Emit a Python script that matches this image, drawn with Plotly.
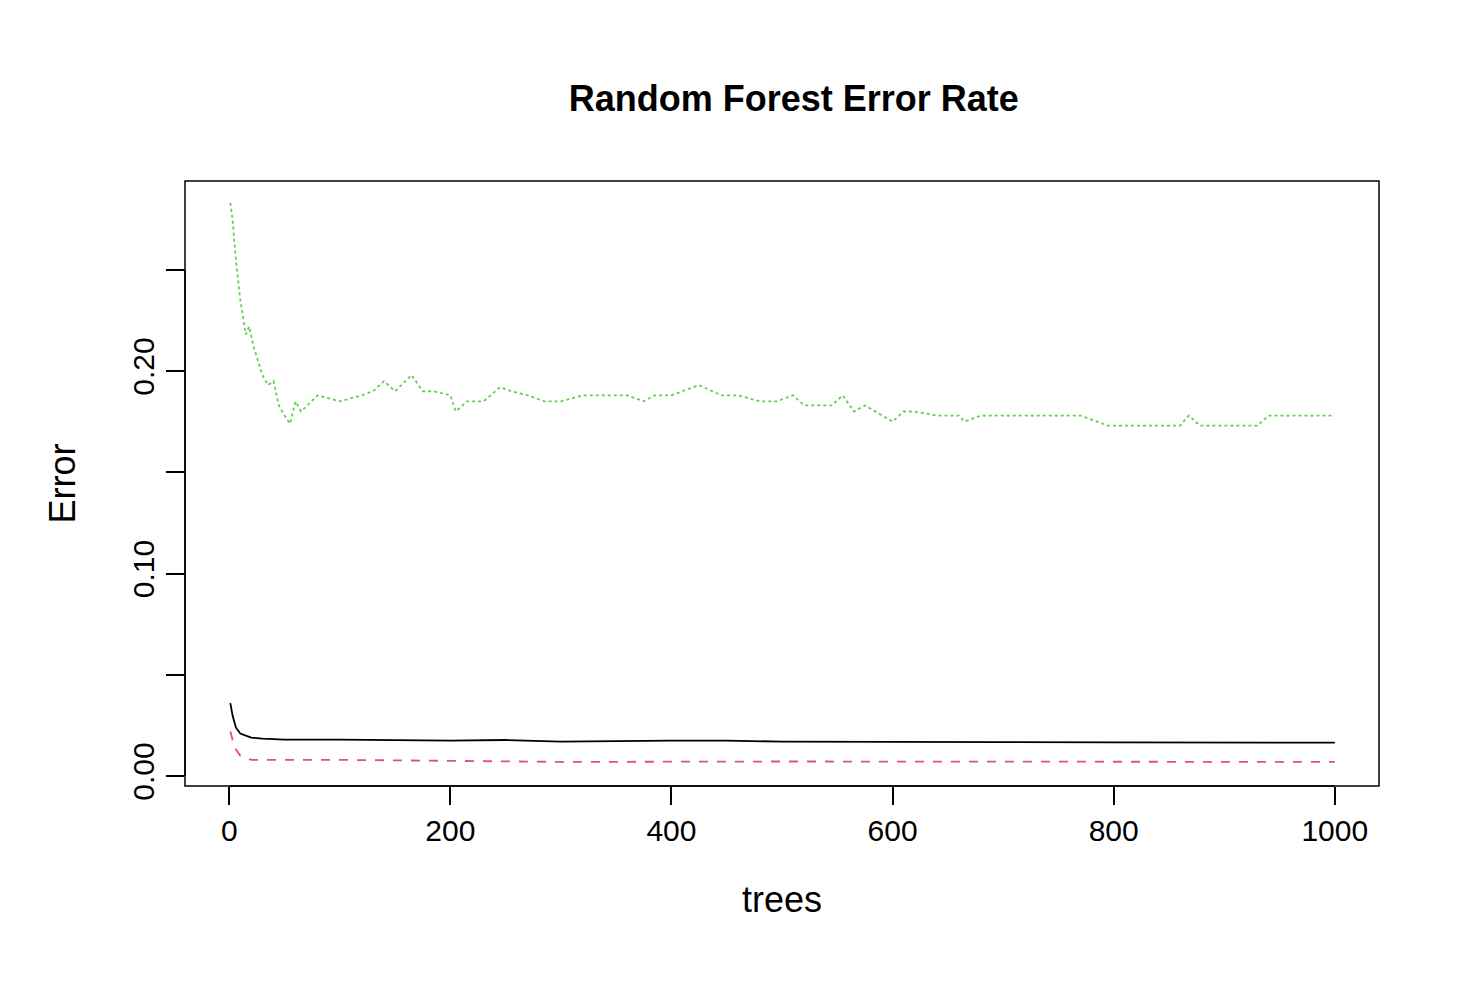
import plotly.graph_objects as go

# OOB (black)
oob_trees = [1, 3, 6, 10, 15, 20, 30, 50, 100, 200, 250, 300, 400, 450, 500, 600, 700, 800, 900, 1000]
oob_err = [0.036, 0.030, 0.024, 0.021, 0.020, 0.019, 0.0185, 0.018, 0.018, 0.0175, 0.0178, 0.017, 0.0175, 0.0175, 0.017, 0.017, 0.0168, 0.0166, 0.0165, 0.0165]
# class 1 (red dashed)
c1_trees = [1, 5, 10, 20, 30, 100, 200, 280, 300, 500, 600, 700, 800, 1000]
c1_err = [0.022, 0.014, 0.010, 0.008, 0.008, 0.008, 0.0075, 0.0072, 0.007, 0.0072, 0.0072, 0.0072, 0.007, 0.007]
# class 2 (green dotted)
c2_trees = [1, 3, 6, 10, 13, 15, 18, 22, 26, 30, 35, 40, 45, 50, 55, 60, 65, 80, 100, 120, 130, 140, 150, 165, 175, 185, 200, 205, 215, 230, 245, 255, 270, 285, 300, 320, 360, 375, 385, 400, 425, 445, 460, 480, 495, 510, 520, 545, 555, 565, 575, 590, 600, 610, 620, 640, 660, 665, 680, 770, 785, 795, 860, 868, 878, 930, 940, 1000]
c2_err = [0.283, 0.275, 0.255, 0.235, 0.225, 0.218, 0.222, 0.212, 0.205, 0.198, 0.193, 0.195, 0.183, 0.178, 0.174, 0.185, 0.18, 0.188, 0.185, 0.188, 0.19, 0.195, 0.19, 0.198, 0.19, 0.19, 0.188, 0.18, 0.185, 0.185, 0.192, 0.19, 0.188, 0.185, 0.185, 0.188, 0.188, 0.185, 0.188, 0.188, 0.193, 0.188, 0.188, 0.185, 0.185, 0.188, 0.183, 0.183, 0.188, 0.18, 0.183, 0.178, 0.175, 0.18, 0.18, 0.178, 0.178, 0.175, 0.178, 0.178, 0.175, 0.173, 0.173, 0.178, 0.173, 0.173, 0.178, 0.178]

ytick_vals = [0, 0.05, 0.10, 0.15, 0.20, 0.25]
ytick_text = ["0.00", "", "0.10", "", "0.20", ""]
xtick_vals = [0, 200, 400, 600, 800, 1000]

fig = go.Figure()
fig.add_trace(go.Scatter(x=oob_trees, y=oob_err, mode="lines", line=dict(color="black", width=1.8)))
fig.add_trace(go.Scatter(x=c1_trees, y=c1_err, mode="lines", line=dict(color="#DF536B", width=1.8, dash="dash")))
fig.add_trace(go.Scatter(x=c2_trees, y=c2_err, mode="lines", line=dict(color="#61D04F", width=1.8, dash="dot")))

font = "Liberation Sans, Arial, Helvetica"
fig.update_layout(
    width=1466, height=1002, showlegend=False,
    plot_bgcolor="white", paper_bgcolor="white",
    margin=dict(l=177, r=95, t=173, b=224),
    font=dict(family=font, size=30, color="black"),
    title=dict(text="<b>Random Forest Error Rate</b>", x=0.536, xanchor="center", y=0.91, yanchor="middle", font=dict(size=36)),
    xaxis=dict(range=[-40, 1040], tickvals=xtick_vals, ticks="outside", ticklen=18, tickwidth=1.5, tickcolor="black",
               showgrid=False, zeroline=False, showline=False,
               title=dict(text="trees", standoff=40)),
    yaxis=dict(range=[-0.0049, 0.2938], tickvals=ytick_vals, ticktext=ytick_text, tickangle=-90,
               ticks="outside", ticklen=18, tickwidth=1.5, tickcolor="black",
               showgrid=False, zeroline=False, showline=False,
               title=dict(text="Error", standoff=40)),
)
fig.add_shape(type="rect", xref="paper", yref="paper", x0=0, x1=1, y0=0, y1=1, line=dict(color="black", width=1.5))
fig.add_shape(type="line", xref="x", yref="paper", x0=0, x1=1000, y0=0, y1=0, line=dict(color="black", width=1.5))
fig.add_shape(type="line", xref="paper", yref="y", x0=0, x1=0, y0=0, y1=0.25, line=dict(color="black", width=1.5))
fig.write_html("out.html")
